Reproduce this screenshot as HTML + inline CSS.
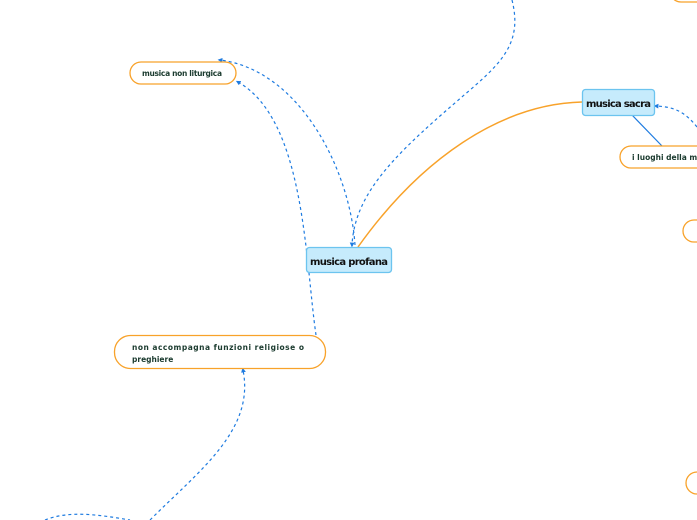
<!DOCTYPE html>
<html><head><meta charset="utf-8"><style>
html,body{margin:0;padding:0;background:#fff;width:697px;height:520px;overflow:hidden}
text{font-family:"DejaVu Sans","Liberation Sans",sans-serif}
</style></head><body>
<svg width="697" height="520" viewBox="0 0 697 520" xmlns="http://www.w3.org/2000/svg">
<defs>
<marker id="a" markerWidth="4" markerHeight="4" refX="2" refY="2" orient="auto"><path d="M0,0 L4,2 L0,4 z" fill="#1e7be0"/></marker>
</defs>
<g fill="none" stroke="#1e7be0" stroke-width="1.2" stroke-dasharray="3,3">
<path d="M512,0 C522,40 505,60 470,90 C400,150 355,190 352,245" marker-end="url(#a)"/>
<path d="M355,245 C350,170 300,70 220,60" marker-end="url(#a)"/>
<path d="M316,335 C305,260 305,120 238,82" marker-end="url(#a)"/>
<path d="M150,520 C200,470 255,430 243,370" marker-end="url(#a)"/>
<path d="M45,520 C70,510 100,515 130,520"/>
<path d="M697,127 C685,112 675,107 656,106" marker-end="url(#a)"/>
</g>
<path d="M358,247 C420,160 500,104 582,102" fill="none" stroke="#f8a22a" stroke-width="1.5"/>
<line x1="632" y1="115" x2="662" y2="146" stroke="#1e7be0" stroke-width="1.2"/>
<g fill="#fff" stroke="#f8a22a" stroke-width="1.3">
<rect x="130" y="62" width="106" height="22" rx="11"/>
<rect x="114.5" y="335.5" width="211" height="33" rx="16"/>
<rect x="620" y="146" width="100" height="22" rx="11"/>
<rect x="683" y="220" width="40" height="22" rx="11"/>
<rect x="686" y="472" width="40" height="22" rx="11"/>
<rect x="670" y="-20" width="60" height="22" rx="11"/>
</g>
<rect x="306.5" y="247.5" width="85" height="25" rx="3" fill="#c6ebfc" stroke="#6cc4ef" stroke-width="1.3"/>
<rect x="582.5" y="89.5" width="72" height="26" rx="3" fill="#c6ebfc" stroke="#6cc4ef" stroke-width="1.3"/>
<g font-weight="bold">
<text x="310" y="265" font-size="10" fill="#111" textLength="78">musica profana</text>
<text x="586" y="107" font-size="10" fill="#111" textLength="65">musica sacra</text>
<g font-size="7.5" fill="#1b3b2f">
<text x="142" y="76" textLength="80">musica non liturgica</text>
<text x="132" y="350" textLength="172">non accompagna funzioni religiose o</text>
<text x="132" y="362">preghiere</text>
<text x="632" y="160">i luoghi della mu</text>
</g>
</g>
</svg>
</body></html>
